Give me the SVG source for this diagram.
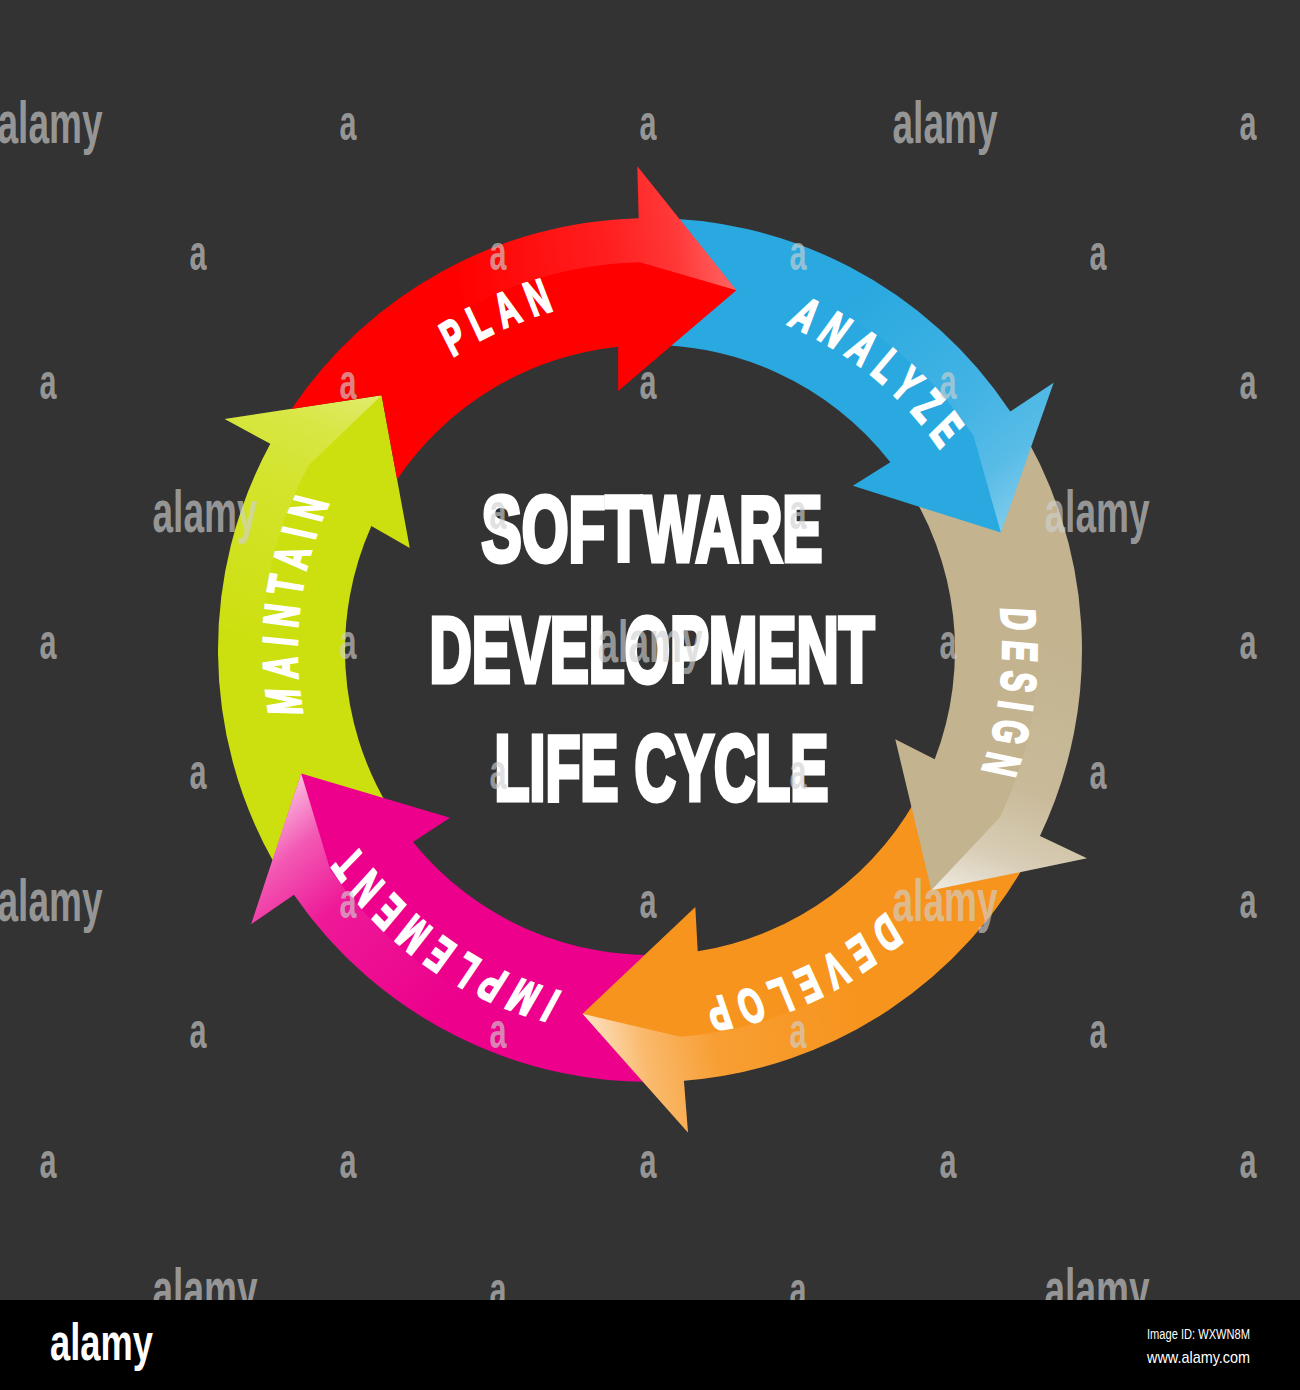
<svg xmlns="http://www.w3.org/2000/svg" width="1300" height="1390" viewBox="0 0 1300 1390">
<defs>
<style>
.lbl{font-family:"Liberation Sans",Arial,sans-serif;font-weight:bold;font-size:49px;letter-spacing:16px;fill:#fff;stroke:#fff;stroke-width:2.5px;stroke-linejoin:miter}
.ttl{font-family:"Liberation Sans",Arial,sans-serif;font-weight:bold;font-size:93px;fill:#fff;stroke:#fff;stroke-width:5px;stroke-linejoin:miter;text-anchor:middle}
.wm{font-family:"Liberation Sans",Arial,sans-serif;font-weight:bold;fill:#d0d0d0;fill-opacity:0.65;text-anchor:middle}
.wa{font-size:50px}
.wl{font-size:60px}
.bar{font-family:"Liberation Sans",Arial,sans-serif;fill:#fff}
</style>
<path id="arrow" d="M 236.88 523.70 A 432 432 0 0 1 538.19 232.72 L 524.73 182.49 L 650 280 L 558.60 405.53 L 548.19 362.50 A 305 305 0 0 0 356.09 568.49 Z"/>
<path id="arrowRed" d="M 245.15 499.27 A 432 432 0 0 1 538.19 232.72 L 524.73 182.49 L 650 280 L 558.60 405.53 L 548.19 362.50 A 305 305 0 0 0 364.29 543.24 L 329.57 465 Z"/>
<path id="hl" d="M 360.94 328.96 A 432 432 0 0 1 538.19 232.72 L 524.73 182.49 L 650 280 L 549.58 275.22 A 388 388 0 0 0 390.38 361.66 Z"/>
<path id="lab" d="M -569.35 0 A 569.35 353 0 0 1 569.35 0" fill="none"/>
<linearGradient id="gSoft" gradientUnits="userSpaceOnUse" x1="380" y1="350" x2="640" y2="250">
<stop offset="0" stop-color="#fff" stop-opacity="0"/>
<stop offset="0.55" stop-color="#fff" stop-opacity="0.12"/>
<stop offset="0.8" stop-color="#fff" stop-opacity="0.22"/>
<stop offset="1" stop-color="#fff" stop-opacity="0.4"/>
</linearGradient>
<linearGradient id="gStrong" gradientUnits="userSpaceOnUse" x1="380" y1="350" x2="640" y2="250">
<stop offset="0" stop-color="#fff" stop-opacity="0"/>
<stop offset="0.55" stop-color="#fff" stop-opacity="0.1"/>
<stop offset="0.8" stop-color="#fff" stop-opacity="0.35"/>
<stop offset="1" stop-color="#fff" stop-opacity="0.75"/>
</linearGradient>
</defs>
<rect x="0" y="0" width="1300" height="1390" fill="#333333"/>

<g id="node-maintain">
<g transform="rotate(313.5 650 650)"><use href="#arrow" fill="#CDE00F"/><use href="#hl" fill="url(#gSoft)"/></g>
<g transform="translate(650 650) rotate(277.9) scale(0.62 1)"><text class="lbl"><textPath href="#lab" startOffset="50%" text-anchor="middle">MAINTAIN</textPath></text></g>
</g>
<g id="node-implement">
<g transform="rotate(250.5 650 650)"><use href="#arrow" fill="#EC008C"/><use href="#hl" fill="url(#gStrong)"/></g>
<g transform="translate(650 650) rotate(216.4) scale(0.62 1)"><text class="lbl"><textPath href="#lab" startOffset="50%" text-anchor="middle">IMPLEMENT</textPath></text></g>
</g>
<g id="node-develop">
<g transform="rotate(190.5 650 650)"><use href="#arrow" fill="#F7941D"/><use href="#hl" fill="url(#gStrong)"/></g>
<g transform="translate(650 650) rotate(155.4) scale(0.62 1)"><text class="lbl"><textPath href="#lab" startOffset="50%" text-anchor="middle">DEVELOP</textPath></text></g>
</g>
<g id="node-design">
<g transform="rotate(130.5 650 650)"><use href="#arrow" fill="#C3B38F"/><use href="#hl" fill="url(#gStrong)"/></g>
<g transform="translate(650 650) rotate(97.4) scale(0.62 1)"><text class="lbl"><textPath href="#lab" startOffset="50%" text-anchor="middle">DESIGN</textPath></text></g>
</g>
<g id="node-analyze">
<g transform="rotate(71.5 650 650)"><use href="#arrow" fill="#29A9E0"/><use href="#hl" fill="url(#gSoft)"/></g>
<g transform="translate(650 650) rotate(39.9) scale(0.62 1)"><text class="lbl"><textPath href="#lab" startOffset="50%" text-anchor="middle">ANALYZE</textPath></text></g>
</g>
<g id="node-plan">
<g transform="rotate(13.5 650 650)"><use href="#arrowRed" fill="#FF0000"/><use href="#hl" fill="url(#gSoft)"/></g>
<g transform="translate(650 650) rotate(335.9) scale(0.62 1)"><text class="lbl"><textPath href="#lab" startOffset="50%" text-anchor="middle">PLAN</textPath></text></g>
</g>

<g id="node-title">
<text class="ttl" x="652" y="561" textLength="341" lengthAdjust="spacingAndGlyphs">SOFTWARE</text>
<text class="ttl" x="652" y="682" textLength="445" lengthAdjust="spacingAndGlyphs">DEVELOPMENT</text>
<text class="ttl" x="661.5" y="800" textLength="334" lengthAdjust="spacingAndGlyphs">LIFE CYCLE</text>
</g>

<g id="watermarks" class="wm">
<text class="wl" x="50" y="143" textLength="105" lengthAdjust="spacingAndGlyphs">alamy</text>
<text class="wa" x="348" y="140" textLength="17" lengthAdjust="spacingAndGlyphs">a</text>
<text class="wa" x="648" y="140" textLength="17" lengthAdjust="spacingAndGlyphs">a</text>
<text class="wl" x="945" y="143" textLength="105" lengthAdjust="spacingAndGlyphs">alamy</text>
<text class="wa" x="1248" y="140" textLength="17" lengthAdjust="spacingAndGlyphs">a</text>

<text class="wa" x="198" y="269.7" textLength="17" lengthAdjust="spacingAndGlyphs">a</text>
<text class="wa" x="498" y="269.7" textLength="17" lengthAdjust="spacingAndGlyphs">a</text>
<text class="wa" x="798" y="269.7" textLength="17" lengthAdjust="spacingAndGlyphs">a</text>
<text class="wa" x="1098" y="269.7" textLength="17" lengthAdjust="spacingAndGlyphs">a</text>

<text class="wa" x="48" y="399.4" textLength="17" lengthAdjust="spacingAndGlyphs">a</text>
<text class="wa" x="348" y="399.4" textLength="17" lengthAdjust="spacingAndGlyphs">a</text>
<text class="wa" x="648" y="399.4" textLength="17" lengthAdjust="spacingAndGlyphs">a</text>
<text class="wa" x="948" y="399.4" textLength="17" lengthAdjust="spacingAndGlyphs">a</text>
<text class="wa" x="1248" y="399.4" textLength="17" lengthAdjust="spacingAndGlyphs">a</text>

<text class="wl" x="205" y="532" textLength="105" lengthAdjust="spacingAndGlyphs">alamy</text>
<text class="wa" x="498" y="529.1" textLength="17" lengthAdjust="spacingAndGlyphs">a</text>
<text class="wa" x="798" y="529.1" textLength="17" lengthAdjust="spacingAndGlyphs">a</text>
<text class="wl" x="1097" y="532" textLength="105" lengthAdjust="spacingAndGlyphs">alamy</text>

<text class="wa" x="48" y="658.8" textLength="17" lengthAdjust="spacingAndGlyphs">a</text>
<text class="wa" x="348" y="658.8" textLength="17" lengthAdjust="spacingAndGlyphs">a</text>
<text class="wl" x="650" y="662" textLength="105" lengthAdjust="spacingAndGlyphs">alamy</text>
<text class="wa" x="948" y="658.8" textLength="17" lengthAdjust="spacingAndGlyphs">a</text>
<text class="wa" x="1248" y="658.8" textLength="17" lengthAdjust="spacingAndGlyphs">a</text>

<text class="wa" x="198" y="788.5" textLength="17" lengthAdjust="spacingAndGlyphs">a</text>
<text class="wa" x="498" y="788.5" textLength="17" lengthAdjust="spacingAndGlyphs">a</text>
<text class="wa" x="798" y="788.5" textLength="17" lengthAdjust="spacingAndGlyphs">a</text>
<text class="wa" x="1098" y="788.5" textLength="17" lengthAdjust="spacingAndGlyphs">a</text>

<text class="wl" x="50" y="921" textLength="105" lengthAdjust="spacingAndGlyphs">alamy</text>
<text class="wa" x="348" y="918.2" textLength="17" lengthAdjust="spacingAndGlyphs">a</text>
<text class="wa" x="648" y="918.2" textLength="17" lengthAdjust="spacingAndGlyphs">a</text>
<text class="wl" x="945" y="921" textLength="105" lengthAdjust="spacingAndGlyphs">alamy</text>
<text class="wa" x="1248" y="918.2" textLength="17" lengthAdjust="spacingAndGlyphs">a</text>

<text class="wa" x="198" y="1047.9" textLength="17" lengthAdjust="spacingAndGlyphs">a</text>
<text class="wa" x="498" y="1047.9" textLength="17" lengthAdjust="spacingAndGlyphs">a</text>
<text class="wa" x="798" y="1047.9" textLength="17" lengthAdjust="spacingAndGlyphs">a</text>
<text class="wa" x="1098" y="1047.9" textLength="17" lengthAdjust="spacingAndGlyphs">a</text>

<text class="wa" x="48" y="1177.6" textLength="17" lengthAdjust="spacingAndGlyphs">a</text>
<text class="wa" x="348" y="1177.6" textLength="17" lengthAdjust="spacingAndGlyphs">a</text>
<text class="wa" x="648" y="1177.6" textLength="17" lengthAdjust="spacingAndGlyphs">a</text>
<text class="wa" x="948" y="1177.6" textLength="17" lengthAdjust="spacingAndGlyphs">a</text>
<text class="wa" x="1248" y="1177.6" textLength="17" lengthAdjust="spacingAndGlyphs">a</text>

<text class="wl" x="205" y="1310" textLength="105" lengthAdjust="spacingAndGlyphs">alamy</text>
<text class="wa" x="498" y="1307.3" textLength="17" lengthAdjust="spacingAndGlyphs">a</text>
<text class="wa" x="798" y="1307.3" textLength="17" lengthAdjust="spacingAndGlyphs">a</text>
<text class="wl" x="1097" y="1310" textLength="105" lengthAdjust="spacingAndGlyphs">alamy</text>
</g>

<g id="footer">
<rect x="0" y="1300" width="1300" height="90" fill="#000"/>
<text class="bar" x="50" y="1360" font-size="52" font-weight="bold" textLength="103" lengthAdjust="spacingAndGlyphs">alamy</text>
<text class="bar" x="1250" y="1339" font-size="14" text-anchor="end" fill="#dddddd" textLength="103" lengthAdjust="spacingAndGlyphs">Image ID: WXWN8M</text>
<text class="bar" x="1250" y="1363" font-size="17" text-anchor="end" textLength="103" lengthAdjust="spacingAndGlyphs">www.alamy.com</text>
</g>
</svg>
